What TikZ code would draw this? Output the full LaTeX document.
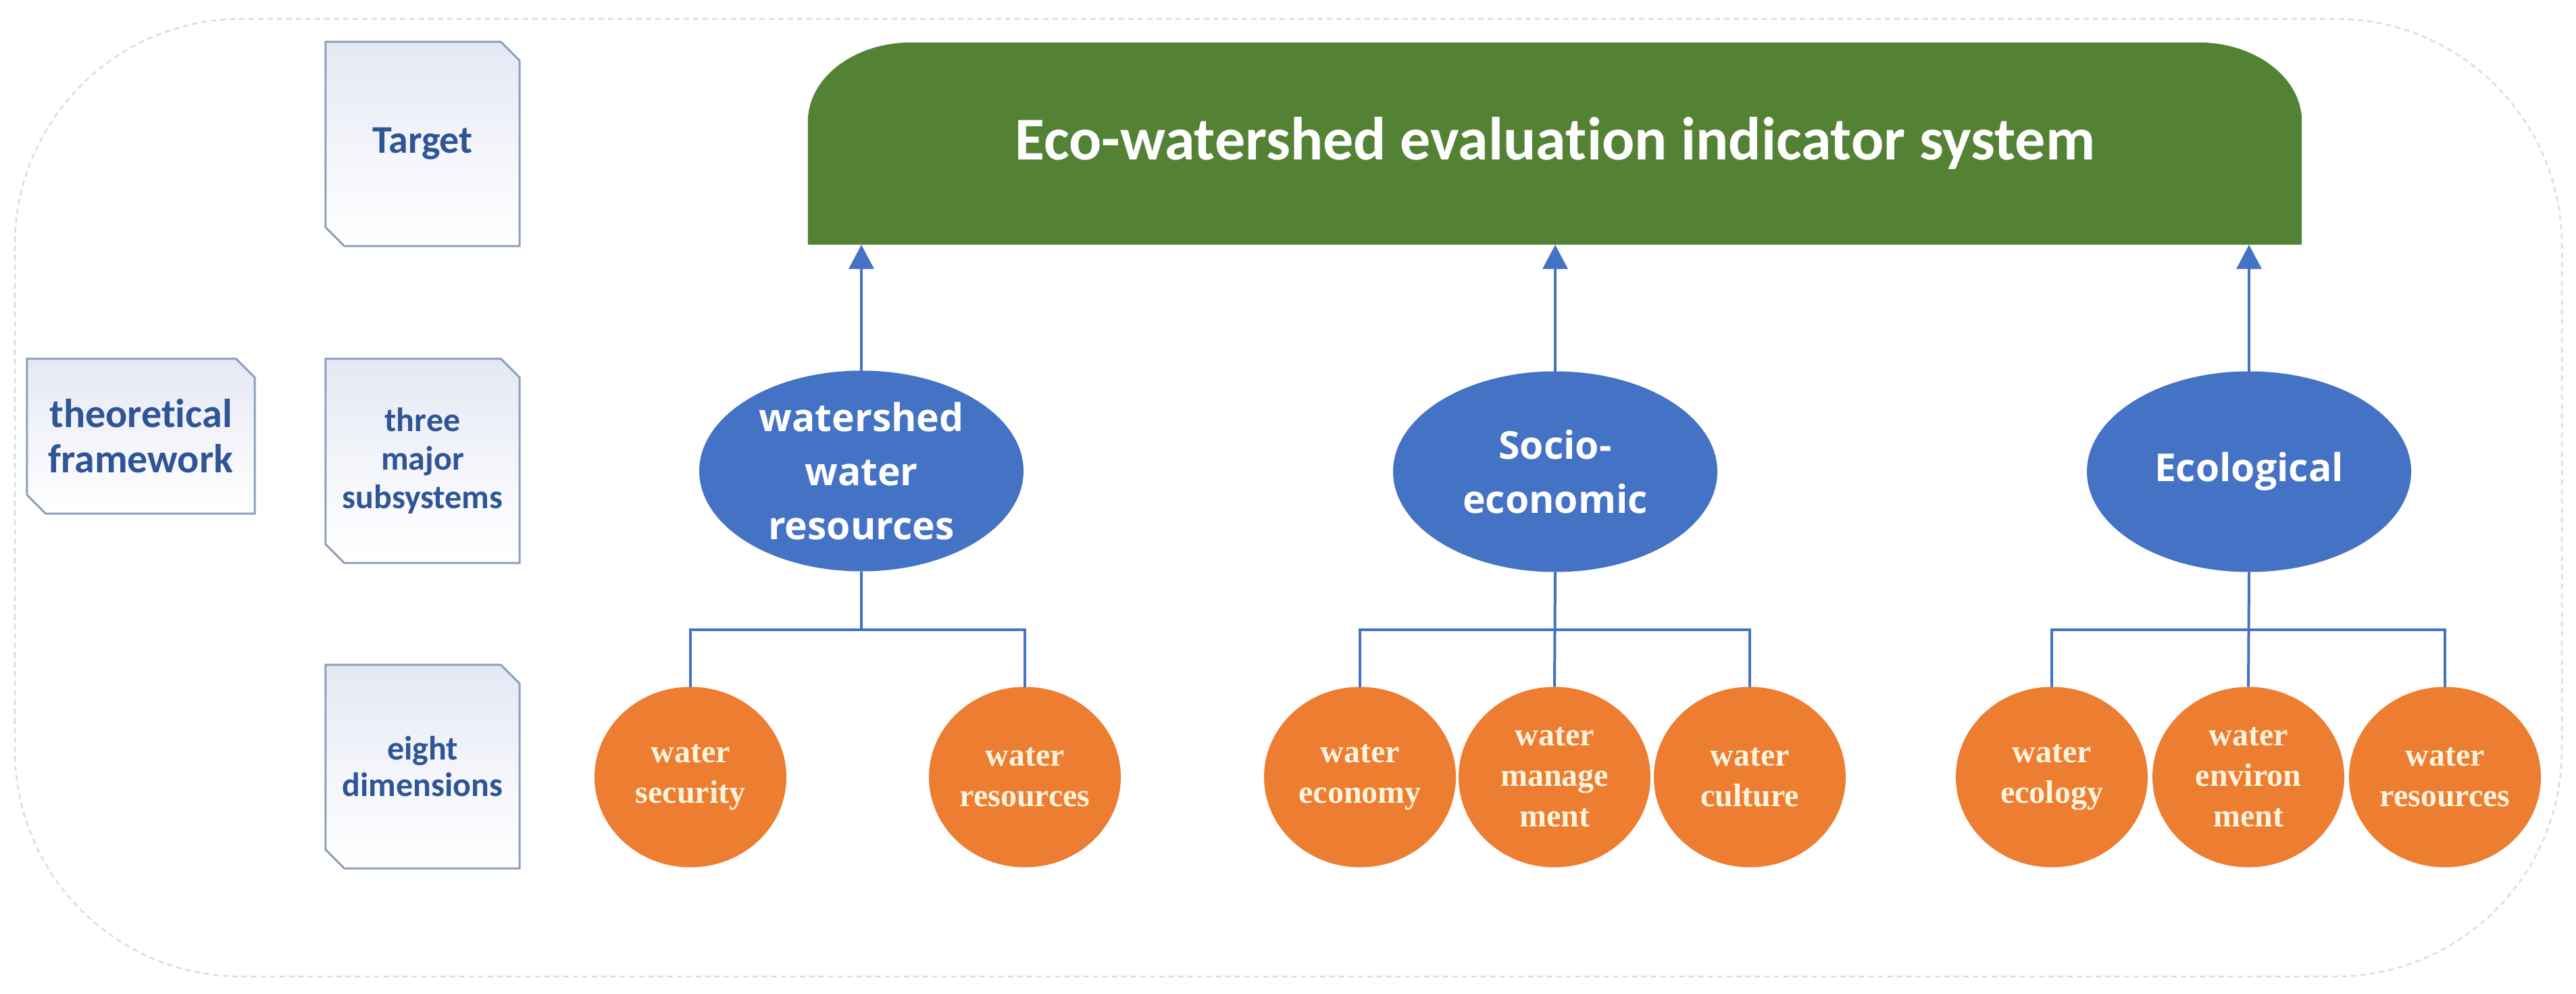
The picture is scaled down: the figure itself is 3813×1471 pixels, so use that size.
\documentclass[tikz,border=0pt]{standalone}
\usepackage{fontspec}
\newfontfamily\calib[Ligatures=CommonOff]{Carlito}
\newfontfamily\osans{Open Sans}
\newfontfamily\tser{Liberation Serif}
\usetikzlibrary{shapes.geometric,arrows.meta,backgrounds}
\definecolor{gboxc}{HTML}{548235}
\definecolor{bluec}{HTML}{4472C4}
\definecolor{orangec}{HTML}{ED7D31}
\definecolor{lblt}{HTML}{2F5597}
\definecolor{lblb}{HTML}{8E9FBB}
\definecolor{lblf}{HTML}{E4E8F4}
\definecolor{creamc}{HTML}{FFF4DE}
\definecolor{framec}{HTML}{DCDCDC}
\newcommand\lblchamfer[1]{\path[lblshape] (#1.north west) -- ([xshift=-28pt]#1.north east) -- ([yshift=-28pt]#1.north east) -- (#1.south east) -- ([xshift=28pt]#1.south west) -- ([yshift=28pt]#1.south west) -- cycle;}
\begin{document}
\begin{tikzpicture}[x=1pt,y=1pt,
  lbl/.style={inner sep=0pt, align=center, text=lblt},
  lblshape/.style={draw=lblb, line width=3pt, top color=lblf, bottom color=white, middle color=white!55!lblf},
  subsys/.style={ellipse, fill=bluec, minimum width=480pt, minimum height=297pt, inner sep=0pt, outer sep=0pt},
  subtxt/.style={text=white, font=\osans\bfseries\fontsize{57}{80}\selectfont, align=center},
  dimc/.style={ellipse, fill=orangec, minimum width=284pt, minimum height=267pt, inner sep=0pt, outer sep=0pt},
  dimtxt/.style={text=creamc, font=\tser\bfseries\fontsize{48}{60}\selectfont, align=center},
  conn/.style={draw=bluec, line width=4pt},
  arr/.style={conn, -{Triangle[length=36pt,width=37pt]}}]
\useasboundingbox (0,0) rectangle (3813,-1471);

% goal
\node[inner sep=0pt, minimum width=2211pt, minimum height=299pt, text=white,
      font=\calib\bfseries\fontsize{90}{100}\selectfont] (goal) at (2301.5,-212.5)
      {Eco-watershed evalua\kern0pt tion indicator system};

% level labels
\node[lbl, minimum width=287pt, minimum height=302pt, font=\calib\bfseries\fontsize{58}{66}\selectfont] (tgt) at (625.5,-213) {Target};
\node[lbl, minimum width=337pt, minimum height=229pt, font=\calib\bfseries\fontsize{60}{67}\selectfont] (thf) at (208.5,-645.5) {theoretical\\framework};
\node[lbl, minimum width=287pt, minimum height=302pt, font=\calib\bfseries\fontsize{50}{57}\selectfont] (tms) at (625.5,-682) {three\\major\\subsystems};
\node[lbl, minimum width=287pt, minimum height=301pt, font=\calib\bfseries\fontsize{50}{54}\selectfont] (eig) at (625.5,-1134.5) {eight\\dimensions};

% subsystems
\node[subsys, label={[subtxt]center:watershed\\water\\resources}] (ws) at (1275,-697) {};
\node[subsys, label={[subtxt]center:Socio-\\economic}] (se) at (2302,-698) {};
\node[subsys, label={[subtxt]center:Ecological}] (ec) at (3329,-698) {};

% dimensions
\node[dimc, label={[dimtxt]center:water\\security}] (sec) at (1022,-1150) {};
\node[dimc, label={[dimtxt]center:water\\resources}] (wres) at (1517,-1150) {};
\node[dimc, label={[dimtxt]center:water\\economy}] (eco) at (2013,-1150) {};
\node[dimc, label={[dimtxt]center:water\\manage\\ment}] (mgt) at (2301,-1150) {};
\node[dimc, label={[dimtxt]center:water\\culture}] (cul) at (2590,-1150) {};
\node[dimc, label={[dimtxt]center:water\\ecology}] (ecl) at (3037,-1150) {};
\node[dimc, label={[dimtxt]center:water\\environ\\ment}] (env) at (3328,-1150) {};
\node[dimc, label={[dimtxt]center:water\\resources}] (wres2) at (3619,-1150) {};

\coordinate (jrow) at (0,-932);

% arrows to goal
\draw[arr] (ws.north) -- (ws.north |- goal.south);
\draw[arr] (se.north) -- (se.north |- goal.south);
\draw[arr] (ec.north) -- (ec.north |- goal.south);

% trees
\draw[conn] (ws.south) -- (ws.south |- jrow);
\draw[conn] (sec.north) |- (ws.south |- jrow) -| (wres.north);
\draw[conn] (se.south) -- (mgt.north);
\draw[conn] (eco.north) |- (mgt.north |- jrow) -| (cul.north);
\draw[conn] (ec.south) -- (env.north);
\draw[conn] (ecl.north) |- (env.north |- jrow) -| (wres2.north);

\begin{scope}[on background layer]
  \fill[white] (0,0) rectangle (3813,-1471);
  \draw[framec, line width=2.5pt, dash pattern=on 8pt off 6pt, rounded corners=335pt] (22,-28) rectangle (3792,-1445);
  \fill[gboxc] (goal.south west) -- ([yshift=-117pt]goal.north west)
     arc[start angle=180, end angle=90, x radius=153pt, y radius=117pt]
     -- ([xshift=-153pt]goal.north east)
     arc[start angle=90, end angle=0, x radius=153pt, y radius=117pt]
     -- (goal.south east) -- cycle;
  \lblchamfer{tgt}
  \lblchamfer{thf}
  \lblchamfer{tms}
  \lblchamfer{eig}
\end{scope}
\end{tikzpicture}
\end{document}
